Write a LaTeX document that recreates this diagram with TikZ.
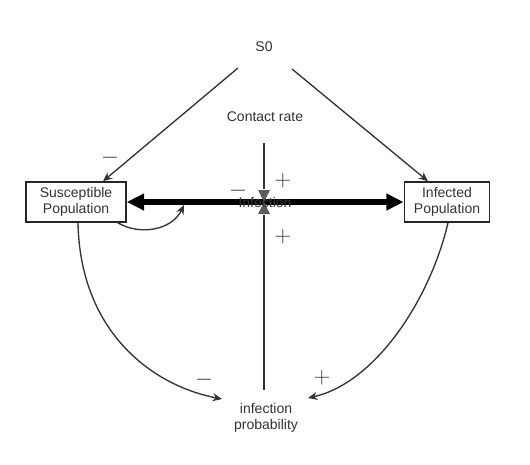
\documentclass[tikz,border=0pt]{standalone}
\usepackage[no-math]{fontspec}
\setmainfont{Liberation Sans}
\usepackage{xcolor}
\usetikzlibrary{arrows.meta,positioning,calc}
\definecolor{ink}{HTML}{333333}

\begin{document}
\begin{tikzpicture}[x=0.75pt,y=-0.75pt,
  every node/.style={font=\fontsize{10.5}{12.5}\selectfont, text=ink, align=center},
  stock/.style={draw=black!85, line width=1.1pt, minimum height=30pt, inner sep=1pt},
  link/.style={draw=ink, line width=1pt, -{Stealth[length=7pt,width=6pt]}},
  flow/.style={draw=black, line width=3.8pt, -{Triangle[length=13pt,width=12pt]}},
  sign/.style={font=\fontsize{17}{17}\selectfont, inner sep=0pt}]
\useasboundingbox (0,0) rectangle (530,464);

% nodes
\node (s0) at (264,47) {S0};%
\node (contact) at (265,117) {Contact rate};%
\node[stock, minimum width=75pt] (susc) at (76,202) {Susceptible\\Population};%
\node[stock, minimum width=64pt] (infd) at (447,202) {Infected\\Population};%
\node (prob) at (266,418) {infection\\probability};%
\coordinate (valve) at (264,202);
\coordinate (crend) at (264,143);
\coordinate (prend) at (264,390);

% flow
\draw[flow] (valve) -- (susc.east);
\draw[flow] (valve) -- (infd.west);
\fill[ink!80] (258,190) -- (270,190) -- (valve) -- cycle;
\fill[ink!80] (258,214) -- (270,214) -- (valve) -- cycle;
\node (flowlab) at (265,202) {Infection};%

% links
\draw[ink, line width=1pt] (crend) -- (264,189);
\draw[ink, line width=1pt] (264,215) -- (prend);
\draw[link] ($(s0)+(-26,21)$) -- ($(susc.north)+(27,0)$);
\draw[link] ($(s0)+(28,22)$) -- ($(infd.north)+(-19,0)$);
\draw[link] ($(susc.south east)+(-9,0)$) .. controls (140,236) and (172,230) .. (184,205);
\draw[link] ($(susc.south)+(2,0)$) .. controls (80,330) and (150,385) .. ($(prob)+(-44,-19)$);
\draw[link] ($(infd.south)+(1,0)$) .. controls (430,300) and (375,383) .. ($(prob)+(42,-20)$);

% signs
\node[sign] (m1) at (110,158) {$-$};
\node[sign] (m2) at (238,191) {$-$};
\node[sign] (p1) at (283,181) {$+$};
\node[sign] (p2) at (283,237) {$+$};
\node[sign] (m3) at (204,380) {$-$};
\node[sign] (p3) at (322,378) {$+$};

\end{tikzpicture}
\end{document}
